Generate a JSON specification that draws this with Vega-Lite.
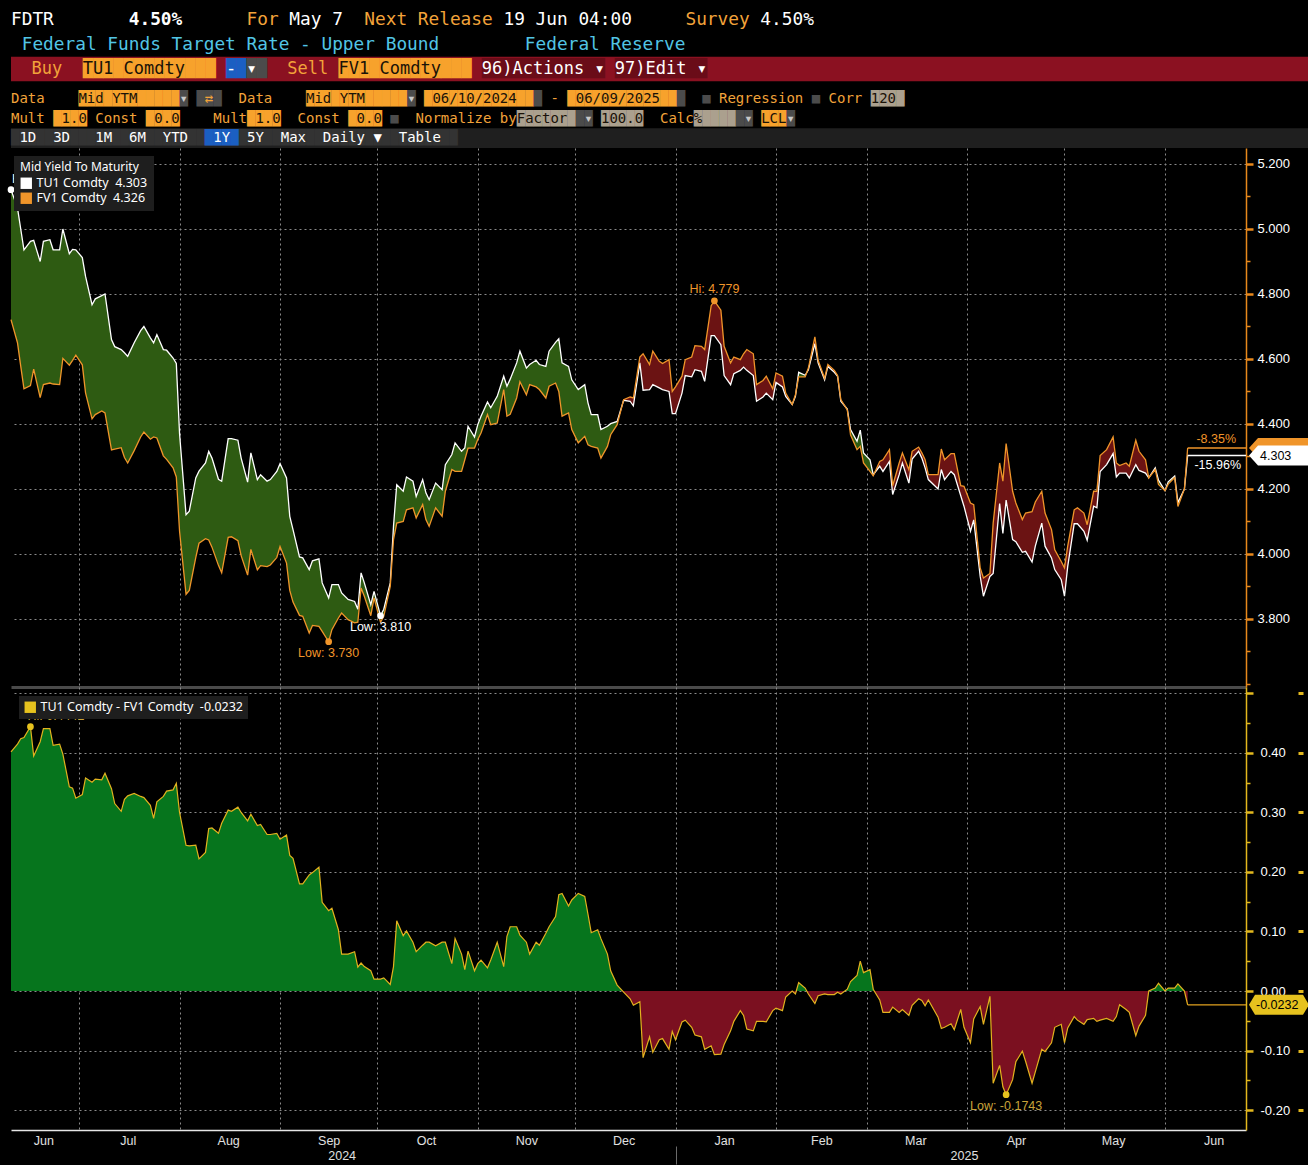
{
"$schema": "https://vega.github.io/schema/vega-lite/v6.json",
"background": "#000000",
"padding": {"left": 7, "top": 0, "right": 0, "bottom": 0},
"spacing": 0,
"bounds": "flush",
"resolve": {"scale": {"color": "independent"}, "legend": {"color": "independent"}},
"config": {"view": {"stroke": null}},
"datasets": {
"hdrA": [
{"part":"Trade","role":"bgred"},
{"part":"Trade","role":"box","text":"\u200b\u00a0\u00a0\u00a0\u00a0\u00a0\u00a0\u00a0█████████████\u00a0\u00a0\u00a0\u00a0\u00a0\u00a0\u00a0\u00a0\u00a0\u00a0\u00a0\u00a0█████████████"},
{"part":"Trade","role":"blue","text":"\u200b\u00a0\u00a0\u00a0\u00a0\u00a0\u00a0\u00a0\u00a0\u00a0\u00a0\u00a0\u00a0\u00a0\u00a0\u00a0\u00a0\u00a0\u00a0\u00a0\u00a0\u00a0██"},
{"part":"Trade","role":"gray","text":"\u200b\u00a0\u00a0\u00a0\u00a0\u00a0\u00a0\u00a0\u00a0\u00a0\u00a0\u00a0\u00a0\u00a0\u00a0\u00a0\u00a0\u00a0\u00a0\u00a0\u00a0\u00a0\u00a0\u00a0██"},
{"part":"Trade","role":"dred","text":"\u200b\u00a0\u00a0\u00a0\u00a0\u00a0\u00a0\u00a0\u00a0\u00a0\u00a0\u00a0\u00a0\u00a0\u00a0\u00a0\u00a0\u00a0\u00a0\u00a0\u00a0\u00a0\u00a0\u00a0\u00a0\u00a0\u00a0\u00a0\u00a0\u00a0\u00a0\u00a0\u00a0\u00a0\u00a0\u00a0\u00a0\u00a0\u00a0\u00a0\u00a0\u00a0\u00a0\u00a0\u00a0\u00a0\u00a0████████████\u00a0█████████"},
{"part":"Trade","role":"lbl","text":"\u200b\u00a0\u00a0Buy\u00a0\u00a0\u00a0\u00a0\u00a0\u00a0\u00a0\u00a0\u00a0\u00a0\u00a0\u00a0\u00a0\u00a0\u00a0\u00a0\u00a0\u00a0\u00a0\u00a0\u00a0\u00a0Sell"},
{"part":"Trade","role":"boxtxt","text":"\u200b\u00a0\u00a0\u00a0\u00a0\u00a0\u00a0\u00a0TU1 Comdty\u00a0\u00a0\u00a0\u00a0\u00a0\u00a0\u00a0\u00a0\u00a0\u00a0\u00a0\u00a0\u00a0\u00a0\u00a0FV1 Comdty"},
{"part":"Trade","role":"wtxt","text":"\u200b\u00a0\u00a0\u00a0\u00a0\u00a0\u00a0\u00a0\u00a0\u00a0\u00a0\u00a0\u00a0\u00a0\u00a0\u00a0\u00a0\u00a0\u00a0\u00a0\u00a0\u00a0-\u00a0▾\u00a0\u00a0\u00a0\u00a0\u00a0\u00a0\u00a0\u00a0\u00a0\u00a0\u00a0\u00a0\u00a0\u00a0\u00a0\u00a0\u00a0\u00a0\u00a0\u00a0\u00a0\u00a096)Actions ▾\u00a097)Edit ▾"},
{"part":"Ticker","role":"val","text":"\u200bFDTR\u00a0\u00a0\u00a0\u00a0\u00a0\u00a0\u00a0\u00a0\u00a0\u00a0\u00a0\u00a0\u00a0\u00a0\u00a0\u00a0\u00a0\u00a0\u00a0\u00a0\u00a0\u00a0May 7\u00a0\u00a0\u00a0\u00a0\u00a0\u00a0\u00a0\u00a0\u00a0\u00a0\u00a0\u00a0\u00a0\u00a0\u00a019 Jun 04:00\u00a0\u00a0\u00a0\u00a0\u00a0\u00a0\u00a0\u00a0\u00a0\u00a0\u00a0\u00a04.50%"},
{"part":"Ticker","role":"lbl","text":"\u200b\u00a0\u00a0\u00a0\u00a0\u00a0\u00a0\u00a0\u00a0\u00a0\u00a0\u00a0\u00a0\u00a0\u00a0\u00a0\u00a0\u00a0\u00a0\u00a0\u00a0\u00a0\u00a0For\u00a0\u00a0\u00a0\u00a0\u00a0\u00a0\u00a0\u00a0Next Release\u00a0\u00a0\u00a0\u00a0\u00a0\u00a0\u00a0\u00a0\u00a0\u00a0\u00a0\u00a0\u00a0\u00a0\u00a0\u00a0\u00a0\u00a0Survey"},
{"part":"Ticker","role":"valb","text":"\u200b\u00a0\u00a0\u00a0\u00a0\u00a0\u00a0\u00a0\u00a0\u00a0\u00a0\u00a04.50%"},
{"part":"Name","role":"cyan","text":"\u200b\u00a0Federal Funds Target Rate - Upper Bound\u00a0\u00a0\u00a0\u00a0\u00a0\u00a0\u00a0\u00a0Federal Reserve"}
],
"hdrB": [
{"part":"Period","role":"bggray"},
{"part":"Period","role":"btn","text":"\u200b█████████████████████████████████████████████████████"},
{"part":"Period","role":"blue","text":"\u200b\u00a0\u00a0\u00a0\u00a0\u00a0\u00a0\u00a0\u00a0\u00a0\u00a0\u00a0\u00a0\u00a0\u00a0\u00a0\u00a0\u00a0\u00a0\u00a0\u00a0\u00a0\u00a0\u00a0████"},
{"part":"Period","role":"wtxt","text":"\u200b\u00a01D\u00a0\u00a03D\u00a0\u00a0\u00a01M\u00a0\u00a06M\u00a0\u00a0YTD\u00a0\u00a0\u00a01Y\u00a0\u00a05Y\u00a0\u00a0Max\u00a0\u00a0Daily ▼\u00a0\u00a0Table"},
{"part":"Data","role":"box","text":"\u200b\u00a0\u00a0\u00a0\u00a0\u00a0\u00a0\u00a0\u00a0████████████\u00a0\u00a0\u00a0\u00a0\u00a0\u00a0\u00a0\u00a0\u00a0\u00a0\u00a0\u00a0\u00a0\u00a0\u00a0████████████\u00a0\u00a0█████████████\u00a0\u00a0\u00a0\u00a0█████████████"},
{"part":"Data","role":"gray","text":"\u200b\u00a0\u00a0\u00a0\u00a0\u00a0\u00a0\u00a0\u00a0\u00a0\u00a0\u00a0\u00a0\u00a0\u00a0\u00a0\u00a0\u00a0\u00a0\u00a0\u00a0█\u00a0███\u00a0\u00a0\u00a0\u00a0\u00a0\u00a0\u00a0\u00a0\u00a0\u00a0\u00a0\u00a0\u00a0\u00a0\u00a0\u00a0\u00a0\u00a0\u00a0\u00a0\u00a0\u00a0█\u00a0\u00a0\u00a0\u00a0\u00a0\u00a0\u00a0\u00a0\u00a0\u00a0\u00a0\u00a0\u00a0\u00a0█\u00a0\u00a0\u00a0\u00a0\u00a0\u00a0\u00a0\u00a0\u00a0\u00a0\u00a0\u00a0\u00a0\u00a0\u00a0\u00a0█\u00a0\u00a0■\u00a0\u00a0\u00a0\u00a0\u00a0\u00a0\u00a0\u00a0\u00a0\u00a0\u00a0\u00a0■"},
{"part":"Data","role":"beige","text":"\u200b\u00a0\u00a0\u00a0\u00a0\u00a0\u00a0\u00a0\u00a0\u00a0\u00a0\u00a0\u00a0\u00a0\u00a0\u00a0\u00a0\u00a0\u00a0\u00a0\u00a0\u00a0\u00a0\u00a0\u00a0\u00a0\u00a0\u00a0\u00a0\u00a0\u00a0\u00a0\u00a0\u00a0\u00a0\u00a0\u00a0\u00a0\u00a0\u00a0\u00a0\u00a0\u00a0\u00a0\u00a0\u00a0\u00a0\u00a0\u00a0\u00a0\u00a0\u00a0\u00a0\u00a0\u00a0\u00a0\u00a0\u00a0\u00a0\u00a0\u00a0\u00a0\u00a0\u00a0\u00a0\u00a0\u00a0\u00a0\u00a0\u00a0\u00a0\u00a0\u00a0\u00a0\u00a0\u00a0\u00a0\u00a0\u00a0\u00a0\u00a0\u00a0\u00a0\u00a0\u00a0\u00a0\u00a0\u00a0\u00a0\u00a0\u00a0\u00a0\u00a0\u00a0\u00a0\u00a0\u00a0\u00a0\u00a0\u00a0\u00a0\u00a0\u00a0████"},
{"part":"Data","role":"lbl","text":"\u200bData\u00a0\u00a0\u00a0\u00a0\u00a0\u00a0\u00a0\u00a0\u00a0\u00a0\u00a0\u00a0\u00a0\u00a0\u00a0\u00a0\u00a0\u00a0\u00a0⇄\u00a0\u00a0\u00a0Data\u00a0\u00a0\u00a0\u00a0\u00a0\u00a0\u00a0\u00a0\u00a0\u00a0\u00a0\u00a0\u00a0\u00a0\u00a0\u00a0\u00a0\u00a0\u00a0\u00a0\u00a0\u00a0\u00a0\u00a0\u00a0\u00a0\u00a0\u00a0\u00a0\u00a0\u00a0\u00a0\u00a0-\u00a0\u00a0\u00a0\u00a0\u00a0\u00a0\u00a0\u00a0\u00a0\u00a0\u00a0\u00a0\u00a0\u00a0\u00a0\u00a0\u00a0\u00a0\u00a0Regression\u00a0\u00a0\u00a0Corr"},
{"part":"Data","role":"boxtxt","text":"\u200b\u00a0\u00a0\u00a0\u00a0\u00a0\u00a0\u00a0\u00a0Mid YTM\u00a0\u00a0\u00a0\u00a0\u00a0\u00a0\u00a0\u00a0\u00a0\u00a0\u00a0\u00a0\u00a0\u00a0\u00a0\u00a0\u00a0\u00a0\u00a0\u00a0Mid YTM\u00a0\u00a0\u00a0\u00a0\u00a0\u00a0\u00a0\u00a006/10/2024\u00a0\u00a0\u00a0\u00a0\u00a0\u00a0\u00a006/09/2025\u00a0\u00a0\u00a0\u00a0\u00a0\u00a0\u00a0\u00a0\u00a0\u00a0\u00a0\u00a0\u00a0\u00a0\u00a0\u00a0\u00a0\u00a0\u00a0\u00a0\u00a0\u00a0\u00a0\u00a0\u00a0120"},
{"part":"Data","role":"dtxt","text":"\u200b\u00a0\u00a0\u00a0\u00a0\u00a0\u00a0\u00a0\u00a0\u00a0\u00a0\u00a0\u00a0\u00a0\u00a0\u00a0\u00a0\u00a0\u00a0\u00a0\u00a0▾\u00a0\u00a0\u00a0\u00a0\u00a0\u00a0\u00a0\u00a0\u00a0\u00a0\u00a0\u00a0\u00a0\u00a0\u00a0\u00a0\u00a0\u00a0\u00a0\u00a0\u00a0\u00a0\u00a0\u00a0\u00a0\u00a0▾"},
{"part":"Scale","role":"box","text":"\u200b\u00a0\u00a0\u00a0\u00a0\u00a0████\u00a0\u00a0\u00a0\u00a0\u00a0\u00a0\u00a0████\u00a0\u00a0\u00a0\u00a0\u00a0\u00a0\u00a0\u00a0████\u00a0\u00a0\u00a0\u00a0\u00a0\u00a0\u00a0\u00a0████\u00a0\u00a0\u00a0\u00a0\u00a0\u00a0\u00a0\u00a0\u00a0\u00a0\u00a0\u00a0\u00a0\u00a0\u00a0\u00a0\u00a0\u00a0\u00a0\u00a0\u00a0\u00a0\u00a0\u00a0\u00a0\u00a0\u00a0\u00a0\u00a0\u00a0\u00a0\u00a0\u00a0\u00a0\u00a0\u00a0\u00a0\u00a0\u00a0\u00a0\u00a0\u00a0\u00a0\u00a0\u00a0███"},
{"part":"Scale","role":"beige","text":"\u200b\u00a0\u00a0\u00a0\u00a0\u00a0\u00a0\u00a0\u00a0\u00a0\u00a0\u00a0\u00a0\u00a0\u00a0\u00a0\u00a0\u00a0\u00a0\u00a0\u00a0\u00a0\u00a0\u00a0\u00a0\u00a0\u00a0\u00a0\u00a0\u00a0\u00a0\u00a0\u00a0\u00a0\u00a0\u00a0\u00a0\u00a0\u00a0\u00a0\u00a0\u00a0\u00a0\u00a0\u00a0\u00a0\u00a0\u00a0\u00a0\u00a0\u00a0\u00a0\u00a0\u00a0\u00a0\u00a0\u00a0\u00a0\u00a0\u00a0\u00a0███████\u00a0\u00a0\u00a0█████\u00a0\u00a0\u00a0\u00a0\u00a0\u00a0█████"},
{"part":"Scale","role":"gray","text":"\u200b\u00a0\u00a0\u00a0\u00a0\u00a0\u00a0\u00a0\u00a0\u00a0\u00a0\u00a0\u00a0\u00a0\u00a0\u00a0\u00a0\u00a0\u00a0\u00a0\u00a0\u00a0\u00a0\u00a0\u00a0\u00a0\u00a0\u00a0\u00a0\u00a0\u00a0\u00a0\u00a0\u00a0\u00a0\u00a0\u00a0\u00a0\u00a0\u00a0\u00a0\u00a0\u00a0\u00a0\u00a0\u00a0■\u00a0\u00a0\u00a0\u00a0\u00a0\u00a0\u00a0\u00a0\u00a0\u00a0\u00a0\u00a0\u00a0\u00a0\u00a0\u00a0\u00a0\u00a0\u00a0\u00a0\u00a0██\u00a0\u00a0\u00a0\u00a0\u00a0\u00a0\u00a0\u00a0\u00a0\u00a0\u00a0\u00a0\u00a0\u00a0\u00a0\u00a0\u00a0██\u00a0\u00a0\u00a0\u00a0█"},
{"part":"Scale","role":"lbl","text":"\u200bMult\u00a0\u00a0\u00a0\u00a0\u00a0\u00a0Const\u00a0\u00a0\u00a0\u00a0\u00a0\u00a0\u00a0\u00a0\u00a0Mult\u00a0\u00a0\u00a0\u00a0\u00a0\u00a0Const\u00a0\u00a0\u00a0\u00a0\u00a0\u00a0\u00a0\u00a0\u00a0Normalize by\u00a0\u00a0\u00a0\u00a0\u00a0\u00a0\u00a0\u00a0\u00a0\u00a0\u00a0\u00a0\u00a0\u00a0\u00a0\u00a0\u00a0Calc"},
{"part":"Scale","role":"boxtxt","text":"\u200b\u00a0\u00a0\u00a0\u00a0\u00a0\u00a01.0\u00a0\u00a0\u00a0\u00a0\u00a0\u00a0\u00a0\u00a00.0\u00a0\u00a0\u00a0\u00a0\u00a0\u00a0\u00a0\u00a0\u00a01.0\u00a0\u00a0\u00a0\u00a0\u00a0\u00a0\u00a0\u00a0\u00a00.0\u00a0\u00a0\u00a0\u00a0\u00a0\u00a0\u00a0\u00a0\u00a0\u00a0\u00a0\u00a0\u00a0\u00a0\u00a0\u00a0Factor\u00a0\u00a0\u00a0\u00a0100.0\u00a0\u00a0\u00a0\u00a0\u00a0\u00a0%\u00a0\u00a0\u00a0\u00a0\u00a0\u00a0\u00a0LCL"},
{"part":"Scale","role":"dtxt","text":"\u200b\u00a0\u00a0\u00a0\u00a0\u00a0\u00a0\u00a0\u00a0\u00a0\u00a0\u00a0\u00a0\u00a0\u00a0\u00a0\u00a0\u00a0\u00a0\u00a0\u00a0\u00a0\u00a0\u00a0\u00a0\u00a0\u00a0\u00a0\u00a0\u00a0\u00a0\u00a0\u00a0\u00a0\u00a0\u00a0\u00a0\u00a0\u00a0\u00a0\u00a0\u00a0\u00a0\u00a0\u00a0\u00a0\u00a0\u00a0\u00a0\u00a0\u00a0\u00a0\u00a0\u00a0\u00a0\u00a0\u00a0\u00a0\u00a0\u00a0\u00a0\u00a0\u00a0\u00a0\u00a0\u00a0\u00a0\u00a0\u00a0▾\u00a0\u00a0\u00a0\u00a0\u00a0\u00a0\u00a0\u00a0\u00a0\u00a0\u00a0\u00a0\u00a0\u00a0\u00a0\u00a0\u00a0\u00a0▾\u00a0\u00a0\u00a0\u00a0▾"}
],
"yields": [
{"d":"2024-06-10","tu1":5.121,"fv1":4.721,"spr":0.402},
{"d":"2024-06-12","tu1":5.065,"fv1":4.650,"spr":0.415},
{"d":"2024-06-13","tu1":5.000,"fv1":4.578,"spr":0.424},
{"d":"2024-06-14","tu1":4.936,"fv1":4.508,"spr":0.426},
{"d":"2024-06-16","tu1":4.962,"fv1":4.518,"spr":0.4442},
{"d":"2024-06-17","tu1":4.965,"fv1":4.569,"spr":0.395},
{"d":"2024-06-19","tu1":4.900,"fv1":4.481,"spr":0.419},
{"d":"2024-06-20","tu1":4.962,"fv1":4.521,"spr":0.441},
{"d":"2024-06-22","tu1":4.967,"fv1":4.526,"spr":0.441},
{"d":"2024-06-23","tu1":4.936,"fv1":4.523,"spr":0.413},
{"d":"2024-06-25","tu1":4.936,"fv1":4.521,"spr":0.415},
{"d":"2024-06-26","tu1":5.000,"fv1":4.602,"spr":0.398},
{"d":"2024-06-28","tu1":4.924,"fv1":4.581,"spr":0.343},
{"d":"2024-06-29","tu1":4.937,"fv1":4.596,"spr":0.341},
{"d":"2024-06-30","tu1":4.936,"fv1":4.612,"spr":0.324},
{"d":"2024-07-02","tu1":4.912,"fv1":4.582,"spr":0.330},
{"d":"2024-07-03","tu1":4.854,"fv1":4.496,"spr":0.358},
{"d":"2024-07-05","tu1":4.767,"fv1":4.416,"spr":0.351},
{"d":"2024-07-06","tu1":4.785,"fv1":4.429,"spr":0.356},
{"d":"2024-07-08","tu1":4.795,"fv1":4.440,"spr":0.355},
{"d":"2024-07-09","tu1":4.800,"fv1":4.434,"spr":0.366},
{"d":"2024-07-11","tu1":4.660,"fv1":4.320,"spr":0.340},
{"d":"2024-07-12","tu1":4.638,"fv1":4.323,"spr":0.315},
{"d":"2024-07-14","tu1":4.629,"fv1":4.327,"spr":0.302},
{"d":"2024-07-15","tu1":4.619,"fv1":4.297,"spr":0.322},
{"d":"2024-07-16","tu1":4.608,"fv1":4.280,"spr":0.328},
{"d":"2024-07-18","tu1":4.650,"fv1":4.318,"spr":0.332},
{"d":"2024-07-20","tu1":4.687,"fv1":4.360,"spr":0.327},
{"d":"2024-07-21","tu1":4.700,"fv1":4.375,"spr":0.325},
{"d":"2024-07-23","tu1":4.665,"fv1":4.353,"spr":0.312},
{"d":"2024-07-24","tu1":4.650,"fv1":4.360,"spr":0.290},
{"d":"2024-07-25","tu1":4.675,"fv1":4.357,"spr":0.318},
{"d":"2024-07-27","tu1":4.629,"fv1":4.302,"spr":0.327},
{"d":"2024-07-28","tu1":4.627,"fv1":4.291,"spr":0.336},
{"d":"2024-07-30","tu1":4.603,"fv1":4.265,"spr":0.338},
{"d":"2024-07-31","tu1":4.586,"fv1":4.237,"spr":0.349},
{"d":"2024-08-01","tu1":4.370,"fv1":4.070,"spr":0.300},
{"d":"2024-08-03","tu1":4.121,"fv1":3.876,"spr":0.245},
{"d":"2024-08-04","tu1":4.132,"fv1":3.888,"spr":0.244},
{"d":"2024-08-06","tu1":4.234,"fv1":3.989,"spr":0.245},
{"d":"2024-08-07","tu1":4.255,"fv1":4.033,"spr":0.222},
{"d":"2024-08-09","tu1":4.280,"fv1":4.047,"spr":0.233},
{"d":"2024-08-10","tu1":4.316,"fv1":4.043,"spr":0.273},
{"d":"2024-08-11","tu1":4.295,"fv1":4.021,"spr":0.274},
{"d":"2024-08-13","tu1":4.230,"fv1":3.965,"spr":0.265},
{"d":"2024-08-14","tu1":4.224,"fv1":3.942,"spr":0.282},
{"d":"2024-08-16","tu1":4.355,"fv1":4.051,"spr":0.304},
{"d":"2024-08-17","tu1":4.355,"fv1":4.053,"spr":0.302},
{"d":"2024-08-19","tu1":4.350,"fv1":4.041,"spr":0.309},
{"d":"2024-08-20","tu1":4.295,"fv1":3.995,"spr":0.300},
{"d":"2024-08-22","tu1":4.221,"fv1":3.935,"spr":0.286},
{"d":"2024-08-23","tu1":4.311,"fv1":4.014,"spr":0.297},
{"d":"2024-08-25","tu1":4.229,"fv1":3.951,"spr":0.278},
{"d":"2024-08-26","tu1":4.244,"fv1":3.964,"spr":0.280},
{"d":"2024-08-28","tu1":4.224,"fv1":3.961,"spr":0.263},
{"d":"2024-08-29","tu1":4.229,"fv1":3.966,"spr":0.263},
{"d":"2024-08-31","tu1":4.254,"fv1":3.989,"spr":0.265},
{"d":"2024-09-01","tu1":4.278,"fv1":4.023,"spr":0.255},
{"d":"2024-09-03","tu1":4.234,"fv1":3.972,"spr":0.262},
{"d":"2024-09-04","tu1":4.116,"fv1":3.888,"spr":0.228},
{"d":"2024-09-05","tu1":4.075,"fv1":3.852,"spr":0.223},
{"d":"2024-09-07","tu1":3.991,"fv1":3.811,"spr":0.180},
{"d":"2024-09-08","tu1":3.988,"fv1":3.808,"spr":0.180},
{"d":"2024-09-10","tu1":3.952,"fv1":3.757,"spr":0.195},
{"d":"2024-09-11","tu1":3.979,"fv1":3.780,"spr":0.199},
{"d":"2024-09-13","tu1":3.985,"fv1":3.777,"spr":0.208},
{"d":"2024-09-14","tu1":3.911,"fv1":3.762,"spr":0.149},
{"d":"2024-09-16","tu1":3.865,"fv1":3.730,"spr":0.135},
{"d":"2024-09-17","tu1":3.906,"fv1":3.767,"spr":0.139},
{"d":"2024-09-19","tu1":3.906,"fv1":3.803,"spr":0.103},
{"d":"2024-09-20","tu1":3.880,"fv1":3.818,"spr":0.062},
{"d":"2024-09-22","tu1":3.860,"fv1":3.798,"spr":0.062},
{"d":"2024-09-24","tu1":3.854,"fv1":3.788,"spr":0.066},
{"d":"2024-09-25","tu1":3.830,"fv1":3.790,"spr":0.040},
{"d":"2024-09-26","tu1":3.942,"fv1":3.895,"spr":0.047},
{"d":"2024-09-27","tu1":3.911,"fv1":3.870,"spr":0.041},
{"d":"2024-09-29","tu1":3.844,"fv1":3.810,"spr":0.034},
{"d":"2024-09-30","tu1":3.885,"fv1":3.865,"spr":0.020},
{"d":"2024-10-02","tu1":3.810,"fv1":3.790,"spr":0.020},
{"d":"2024-10-03","tu1":3.830,"fv1":3.808,"spr":0.022},
{"d":"2024-10-05","tu1":3.911,"fv1":3.900,"spr":0.011},
{"d":"2024-10-06","tu1":4.085,"fv1":4.044,"spr":0.041},
{"d":"2024-10-07","tu1":4.213,"fv1":4.095,"spr":0.118},
{"d":"2024-10-09","tu1":4.193,"fv1":4.100,"spr":0.093},
{"d":"2024-10-10","tu1":4.237,"fv1":4.136,"spr":0.101},
{"d":"2024-10-12","tu1":4.224,"fv1":4.142,"spr":0.082},
{"d":"2024-10-13","tu1":4.177,"fv1":4.111,"spr":0.066},
{"d":"2024-10-15","tu1":4.229,"fv1":4.152,"spr":0.077},
{"d":"2024-10-16","tu1":4.188,"fv1":4.106,"spr":0.082},
{"d":"2024-10-17","tu1":4.167,"fv1":4.085,"spr":0.082},
{"d":"2024-10-19","tu1":4.218,"fv1":4.142,"spr":0.076},
{"d":"2024-10-21","tu1":4.198,"fv1":4.116,"spr":0.082},
{"d":"2024-10-22","tu1":4.275,"fv1":4.193,"spr":0.082},
{"d":"2024-10-24","tu1":4.306,"fv1":4.260,"spr":0.046},
{"d":"2024-10-25","tu1":4.342,"fv1":4.254,"spr":0.088},
{"d":"2024-10-27","tu1":4.316,"fv1":4.254,"spr":0.062},
{"d":"2024-10-28","tu1":4.326,"fv1":4.290,"spr":0.036},
{"d":"2024-10-29","tu1":4.393,"fv1":4.326,"spr":0.067},
{"d":"2024-10-31","tu1":4.360,"fv1":4.326,"spr":0.034},
{"d":"2024-11-01","tu1":4.398,"fv1":4.352,"spr":0.046},
{"d":"2024-11-02","tu1":4.424,"fv1":4.372,"spr":0.052},
{"d":"2024-11-04","tu1":4.468,"fv1":4.429,"spr":0.039},
{"d":"2024-11-05","tu1":4.450,"fv1":4.398,"spr":0.052},
{"d":"2024-11-07","tu1":4.485,"fv1":4.403,"spr":0.082},
{"d":"2024-11-09","tu1":4.547,"fv1":4.506,"spr":0.041},
{"d":"2024-11-10","tu1":4.516,"fv1":4.424,"spr":0.092},
{"d":"2024-11-11","tu1":4.538,"fv1":4.430,"spr":0.108},
{"d":"2024-11-13","tu1":4.588,"fv1":4.480,"spr":0.108},
{"d":"2024-11-14","tu1":4.624,"fv1":4.530,"spr":0.094},
{"d":"2024-11-16","tu1":4.572,"fv1":4.490,"spr":0.082},
{"d":"2024-11-17","tu1":4.583,"fv1":4.521,"spr":0.062},
{"d":"2024-11-19","tu1":4.596,"fv1":4.514,"spr":0.082},
{"d":"2024-11-20","tu1":4.583,"fv1":4.506,"spr":0.077},
{"d":"2024-11-22","tu1":4.577,"fv1":4.480,"spr":0.097},
{"d":"2024-11-23","tu1":4.624,"fv1":4.516,"spr":0.108},
{"d":"2024-11-25","tu1":4.651,"fv1":4.526,"spr":0.125},
{"d":"2024-11-26","tu1":4.662,"fv1":4.500,"spr":0.162},
{"d":"2024-11-27","tu1":4.588,"fv1":4.424,"spr":0.164},
{"d":"2024-11-29","tu1":4.577,"fv1":4.434,"spr":0.143},
{"d":"2024-11-30","tu1":4.536,"fv1":4.383,"spr":0.153},
{"d":"2024-12-02","tu1":4.506,"fv1":4.342,"spr":0.164},
{"d":"2024-12-04","tu1":4.521,"fv1":4.362,"spr":0.159},
{"d":"2024-12-05","tu1":4.465,"fv1":4.336,"spr":0.129},
{"d":"2024-12-06","tu1":4.429,"fv1":4.331,"spr":0.098},
{"d":"2024-12-08","tu1":4.429,"fv1":4.326,"spr":0.103},
{"d":"2024-12-09","tu1":4.383,"fv1":4.295,"spr":0.088},
{"d":"2024-12-11","tu1":4.393,"fv1":4.331,"spr":0.062},
{"d":"2024-12-12","tu1":4.401,"fv1":4.367,"spr":0.034},
{"d":"2024-12-14","tu1":4.408,"fv1":4.398,"spr":0.010},
{"d":"2024-12-16","tu1":4.473,"fv1":4.475,"spr":-0.002},
{"d":"2024-12-18","tu1":4.470,"fv1":4.483,"spr":-0.013},
{"d":"2024-12-19","tu1":4.456,"fv1":4.480,"spr":-0.024},
{"d":"2024-12-21","tu1":4.588,"fv1":4.606,"spr":-0.018},
{"d":"2024-12-22","tu1":4.504,"fv1":4.616,"spr":-0.112},
{"d":"2024-12-24","tu1":4.506,"fv1":4.583,"spr":-0.077},
{"d":"2024-12-25","tu1":4.521,"fv1":4.624,"spr":-0.103},
{"d":"2024-12-27","tu1":4.511,"fv1":4.593,"spr":-0.082},
{"d":"2024-12-28","tu1":4.506,"fv1":4.586,"spr":-0.080},
{"d":"2024-12-30","tu1":4.500,"fv1":4.598,"spr":-0.098},
{"d":"2024-12-31","tu1":4.432,"fv1":4.500,"spr":-0.068},
{"d":"2025-01-01","tu1":4.432,"fv1":4.514,"spr":-0.082},
{"d":"2025-01-03","tu1":4.495,"fv1":4.547,"spr":-0.052},
{"d":"2025-01-04","tu1":4.549,"fv1":4.598,"spr":-0.049},
{"d":"2025-01-06","tu1":4.545,"fv1":4.606,"spr":-0.061},
{"d":"2025-01-07","tu1":4.567,"fv1":4.641,"spr":-0.074},
{"d":"2025-01-09","tu1":4.562,"fv1":4.639,"spr":-0.077},
{"d":"2025-01-10","tu1":4.531,"fv1":4.629,"spr":-0.098},
{"d":"2025-01-12","tu1":4.672,"fv1":4.764,"spr":-0.092},
{"d":"2025-01-13","tu1":4.672,"fv1":4.779,"spr":-0.107},
{"d":"2025-01-15","tu1":4.644,"fv1":4.750,"spr":-0.106},
{"d":"2025-01-16","tu1":4.549,"fv1":4.639,"spr":-0.090},
{"d":"2025-01-18","tu1":4.521,"fv1":4.588,"spr":-0.067},
{"d":"2025-01-19","tu1":4.555,"fv1":4.606,"spr":-0.051},
{"d":"2025-01-21","tu1":4.565,"fv1":4.598,"spr":-0.033},
{"d":"2025-01-22","tu1":4.575,"fv1":4.616,"spr":-0.041},
{"d":"2025-01-23","tu1":4.565,"fv1":4.629,"spr":-0.064},
{"d":"2025-01-25","tu1":4.549,"fv1":4.616,"spr":-0.067},
{"d":"2025-01-26","tu1":4.470,"fv1":4.521,"spr":-0.051},
{"d":"2025-01-28","tu1":4.483,"fv1":4.534,"spr":-0.051},
{"d":"2025-01-29","tu1":4.495,"fv1":4.547,"spr":-0.052},
{"d":"2025-01-31","tu1":4.475,"fv1":4.508,"spr":-0.033},
{"d":"2025-02-01","tu1":4.528,"fv1":4.557,"spr":-0.029},
{"d":"2025-02-03","tu1":4.514,"fv1":4.547,"spr":-0.033},
{"d":"2025-02-04","tu1":4.485,"fv1":4.495,"spr":-0.010},
{"d":"2025-02-06","tu1":4.460,"fv1":4.460,"spr":0.000},
{"d":"2025-02-07","tu1":4.485,"fv1":4.490,"spr":-0.005},
{"d":"2025-02-08","tu1":4.559,"fv1":4.545,"spr":0.014},
{"d":"2025-02-10","tu1":4.550,"fv1":4.545,"spr":0.005},
{"d":"2025-02-11","tu1":4.567,"fv1":4.572,"spr":-0.005},
{"d":"2025-02-13","tu1":4.647,"fv1":4.668,"spr":-0.021},
{"d":"2025-02-14","tu1":4.588,"fv1":4.596,"spr":-0.008},
{"d":"2025-02-16","tu1":4.536,"fv1":4.541,"spr":-0.005},
{"d":"2025-02-17","tu1":4.577,"fv1":4.583,"spr":-0.006},
{"d":"2025-02-19","tu1":4.559,"fv1":4.565,"spr":-0.006},
{"d":"2025-02-20","tu1":4.547,"fv1":4.549,"spr":-0.002},
{"d":"2025-02-21","tu1":4.470,"fv1":4.475,"spr":-0.005},
{"d":"2025-02-23","tu1":4.446,"fv1":4.443,"spr":0.003},
{"d":"2025-02-24","tu1":4.383,"fv1":4.367,"spr":0.016},
{"d":"2025-02-26","tu1":4.347,"fv1":4.321,"spr":0.026},
{"d":"2025-02-27","tu1":4.381,"fv1":4.331,"spr":0.050},
{"d":"2025-02-28","tu1":4.311,"fv1":4.280,"spr":0.031},
{"d":"2025-03-02","tu1":4.290,"fv1":4.254,"spr":0.036},
{"d":"2025-03-03","tu1":4.244,"fv1":4.241,"spr":0.003},
{"d":"2025-03-05","tu1":4.270,"fv1":4.285,"spr":-0.015},
{"d":"2025-03-06","tu1":4.254,"fv1":4.290,"spr":-0.036},
{"d":"2025-03-08","tu1":4.285,"fv1":4.321,"spr":-0.036},
{"d":"2025-03-09","tu1":4.183,"fv1":4.210,"spr":-0.027},
{"d":"2025-03-11","tu1":4.244,"fv1":4.280,"spr":-0.036},
{"d":"2025-03-12","tu1":4.280,"fv1":4.311,"spr":-0.031},
{"d":"2025-03-14","tu1":4.218,"fv1":4.259,"spr":-0.041},
{"d":"2025-03-15","tu1":4.292,"fv1":4.316,"spr":-0.024},
{"d":"2025-03-17","tu1":4.316,"fv1":4.329,"spr":-0.013},
{"d":"2025-03-18","tu1":4.295,"fv1":4.311,"spr":-0.016},
{"d":"2025-03-19","tu1":4.265,"fv1":4.290,"spr":-0.025},
{"d":"2025-03-20","tu1":4.229,"fv1":4.244,"spr":-0.015},
{"d":"2025-03-23","tu1":4.200,"fv1":4.244,"spr":-0.044},
{"d":"2025-03-24","tu1":4.260,"fv1":4.323,"spr":-0.063},
{"d":"2025-03-25","tu1":4.229,"fv1":4.290,"spr":-0.061},
{"d":"2025-03-27","tu1":4.254,"fv1":4.309,"spr":-0.055},
{"d":"2025-03-28","tu1":4.244,"fv1":4.309,"spr":-0.065},
{"d":"2025-03-30","tu1":4.179,"fv1":4.210,"spr":-0.031},
{"d":"2025-03-31","tu1":4.147,"fv1":4.208,"spr":-0.061},
{"d":"2025-04-02","tu1":4.070,"fv1":4.157,"spr":-0.087},
{"d":"2025-04-03","tu1":4.105,"fv1":4.152,"spr":-0.047},
{"d":"2025-04-05","tu1":3.931,"fv1":3.957,"spr":-0.026},
{"d":"2025-04-06","tu1":3.870,"fv1":3.926,"spr":-0.056},
{"d":"2025-04-08","tu1":3.931,"fv1":3.940,"spr":-0.009},
{"d":"2025-04-09","tu1":3.940,"fv1":4.095,"spr":-0.155},
{"d":"2025-04-11","tu1":4.155,"fv1":4.280,"spr":-0.125},
{"d":"2025-04-12","tu1":4.063,"fv1":4.224,"spr":-0.161},
{"d":"2025-04-13","tu1":4.166,"fv1":4.340,"spr":-0.1743},
{"d":"2025-04-15","tu1":4.044,"fv1":4.193,"spr":-0.149},
{"d":"2025-04-16","tu1":4.038,"fv1":4.157,"spr":-0.119},
{"d":"2025-04-18","tu1":4.005,"fv1":4.106,"spr":-0.101},
{"d":"2025-04-19","tu1":4.008,"fv1":4.126,"spr":-0.118},
{"d":"2025-04-21","tu1":3.975,"fv1":4.130,"spr":-0.155},
{"d":"2025-04-22","tu1":4.024,"fv1":4.160,"spr":-0.136},
{"d":"2025-04-24","tu1":4.095,"fv1":4.193,"spr":-0.098},
{"d":"2025-04-25","tu1":4.024,"fv1":4.126,"spr":-0.102},
{"d":"2025-04-27","tu1":3.988,"fv1":4.075,"spr":-0.087},
{"d":"2025-04-28","tu1":3.952,"fv1":4.013,"spr":-0.061},
{"d":"2025-04-30","tu1":3.921,"fv1":3.977,"spr":-0.056},
{"d":"2025-05-01","tu1":3.870,"fv1":3.957,"spr":-0.087},
{"d":"2025-05-02","tu1":3.962,"fv1":4.024,"spr":-0.062},
{"d":"2025-05-04","tu1":4.093,"fv1":4.136,"spr":-0.043},
{"d":"2025-05-05","tu1":4.093,"fv1":4.142,"spr":-0.049},
{"d":"2025-05-07","tu1":4.070,"fv1":4.126,"spr":-0.056},
{"d":"2025-05-08","tu1":4.042,"fv1":4.090,"spr":-0.048},
{"d":"2025-05-10","tu1":4.147,"fv1":4.193,"spr":-0.046},
{"d":"2025-05-11","tu1":4.142,"fv1":4.193,"spr":-0.051},
{"d":"2025-05-12","tu1":4.254,"fv1":4.303,"spr":-0.049},
{"d":"2025-05-14","tu1":4.275,"fv1":4.321,"spr":-0.046},
{"d":"2025-05-16","tu1":4.309,"fv1":4.360,"spr":-0.051},
{"d":"2025-05-17","tu1":4.237,"fv1":4.280,"spr":-0.043},
{"d":"2025-05-18","tu1":4.249,"fv1":4.272,"spr":-0.023},
{"d":"2025-05-20","tu1":4.249,"fv1":4.280,"spr":-0.031},
{"d":"2025-05-21","tu1":4.234,"fv1":4.270,"spr":-0.036},
{"d":"2025-05-23","tu1":4.275,"fv1":4.350,"spr":-0.075},
{"d":"2025-05-24","tu1":4.257,"fv1":4.316,"spr":-0.059},
{"d":"2025-05-26","tu1":4.249,"fv1":4.290,"spr":-0.041},
{"d":"2025-05-27","tu1":4.234,"fv1":4.234,"spr":0.000},
{"d":"2025-05-29","tu1":4.265,"fv1":4.260,"spr":0.005},
{"d":"2025-05-30","tu1":4.227,"fv1":4.214,"spr":0.013},
{"d":"2025-06-01","tu1":4.195,"fv1":4.195,"spr":0.000},
{"d":"2025-06-02","tu1":4.222,"fv1":4.215,"spr":0.005},
{"d":"2025-06-04","tu1":4.240,"fv1":4.235,"spr":0.005},
{"d":"2025-06-05","tu1":4.158,"fv1":4.146,"spr":0.012},
{"d":"2025-06-07","tu1":4.200,"fv1":4.200,"spr":0.000},
{"d":"2025-06-08","tu1":4.303,"fv1":4.326,"spr":-0.0232}
],
"topLast": [
{"s":"FV1 Comdty","d":"2025-06-08","d2":"2025-06-26","v":4.326,"chg":"-8.35%","tag":"4.326"},
{"s":"TU1 Comdty","d":"2025-06-08","d2":"2025-06-26","v":4.303,"chg":"-15.96%","tag":"4.303"}
],
"topAnn": [
{"s":"TU1 Comdty","d":"2024-06-10","v":5.121,"label":"Hi: 5.121","pos":"start"},
{"s":"FV1 Comdty","d":"2025-01-13","v":4.779,"label":"Hi: 4.779","pos":"above"},
{"s":"FV1 Comdty","d":"2024-09-16","v":3.730,"label":"Low: 3.730","pos":"below"},
{"s":"TU1 Comdty","d":"2024-10-02","v":3.810,"label":"Low: 3.810","pos":"below"}
],
"botLast": [
{"d":"2025-06-08","d2":"2025-06-26","v":-0.0232,"tag":"-0.0232"}
],
"botAnn": [
{"s":"TU1 Comdty - FV1 Comdty","d":"2024-06-16","v":0.4442,"label":"Hi: 0.4442","pos":"start"},
{"s":"TU1 Comdty - FV1 Comdty","d":"2025-04-13","v":-0.1743,"label":"Low: -0.1743","pos":"below"}
]
},
"vconcat": [
{
"width": 1301, "height": 89,
"data": {"name": "hdrA"},
"encoding": {
"x": {"datum": 0, "type": "quantitative", "scale": {"domain": [0, 1]}, "axis": null},
"y": {"field": "part", "type": "nominal", "scale": {"type": "band", "domain": ["Ticker", "Name", "Trade"], "paddingInner": 0, "paddingOuter": 0.316}, "axis": null},
"color": {"field": "role", "type": "nominal", "legend": null, "scale": {"domain": ["bgred","bggray","btn","val","valb","lbl","cyan","box","boxtxt","gray","beige","blue","dred","wtxt","dtxt"], "range": ["#8b1121","#1f1f1f","#333333","#ffffff","#ffffff","#f2a33a","#52c5e5","#f7a22c","#1a1208","#4b4b4b","#aba08e","#1b5fc2","#6a0c18","#ffffff","#c8c8c8"]}}
},
"layer": [
{"transform": [{"filter": "datum.role == 'bgred'"}], "mark": {"type": "rect"}, "encoding": {"x2": {"datum": 1}}},
{"transform": [{"filter": "datum.part == 'Trade' && datum.role != 'bgred'"}], "mark": {"type": "text", "align": "left", "baseline": "middle", "font": "DejaVu Sans Mono", "fontSize": 17}, "encoding": {"text": {"field": "text"}}},
{"transform": [{"filter": "datum.part != 'Trade' && datum.role != 'valb'"}], "mark": {"type": "text", "align": "left", "baseline": "middle", "font": "DejaVu Sans Mono", "fontSize": 17.8}, "encoding": {"text": {"field": "text"}}},
{"transform": [{"filter": "datum.role == 'valb'"}], "mark": {"type": "text", "align": "left", "baseline": "middle", "font": "DejaVu Sans Mono", "fontSize": 17.8, "fontWeight": "bold"}, "encoding": {"text": {"field": "text"}}}
]
},
{
"width": 1301, "height": 59,
"data": {"name": "hdrB"},
"encoding": {
"x": {"datum": 0, "type": "quantitative", "scale": {"domain": [0, 1]}, "axis": null},
"y": {"field": "part", "type": "nominal", "scale": {"type": "band", "domain": ["Data", "Scale", "Period"], "paddingInner": 0, "paddingOuter": 0}, "axis": null},
"color": {"field": "role", "type": "nominal", "legend": null, "scale": {"domain": ["bgred","bggray","btn","val","valb","lbl","cyan","box","boxtxt","gray","beige","blue","dred","wtxt","dtxt"], "range": ["#8b1121","#1f1f1f","#333333","#ffffff","#ffffff","#f2a33a","#52c5e5","#f7a22c","#1a1208","#4b4b4b","#aba08e","#1b5fc2","#6a0c18","#ffffff","#c8c8c8"]}}
},
"layer": [
{"transform": [{"filter": "datum.role == 'bggray'"}], "mark": {"type": "rect"}, "encoding": {"x2": {"datum": 1}}},
{"transform": [{"filter": "datum.role != 'bggray'"}], "mark": {"type": "text", "align": "left", "baseline": "middle", "font": "DejaVu Sans Mono", "fontSize": 14}, "encoding": {"text": {"field": "text"}}}
]
},
{
"width": 1235, "height": 539,
"data": {"name": "yields"},
"resolve": {"axis": {"x": "independent", "y": "independent"}},
"layer": [
{
"transform": [{"fold": ["tu1", "fv1"], "as": ["k", "v"]}, {"aggregate": [{"op": "min", "field": "v", "as": "lo"}, {"op": "max", "field": "tu1", "as": "tu1"}, {"op": "max", "field": "fv1", "as": "fv1"}], "groupby": ["d"]}],
"mark": {"type": "area", "color": "#2e5b12", "opacity": 1},
"encoding": {
"x": {"field": "d", "type": "temporal", "scale": {"type": "utc", "domain": [{"year": 2024, "month": 6, "date": 10, "utc": true}, {"year": 2025, "month": 6, "date": 26, "utc": true}]},
 "axis": {"orient": "bottom", "values": [{"year":2024,"month":7,"date":1,"utc":true},{"year":2024,"month":8,"date":1,"utc":true},{"year":2024,"month":9,"date":1,"utc":true},{"year":2024,"month":10,"date":1,"utc":true},{"year":2024,"month":11,"date":1,"utc":true},{"year":2024,"month":12,"date":1,"utc":true},{"year":2025,"month":1,"date":1,"utc":true},{"year":2025,"month":2,"date":1,"utc":true},{"year":2025,"month":3,"date":1,"utc":true},{"year":2025,"month":4,"date":1,"utc":true},{"year":2025,"month":5,"date":1,"utc":true},{"year":2025,"month":6,"date":1,"utc":true}],
 "grid": true, "gridColor": "#8a8a8a", "gridDash": [2, 3], "gridWidth": 1, "labels": false, "ticks": false, "domain": true, "domainColor": "#4a4a4a", "domainWidth": 3, "title": null}},
"y": {"field": "tu1", "type": "quantitative", "scale": {"domain": [3.5907, 5.2492], "zero": false, "nice": false},
 "axis": {"orient": "right", "values": [3.8, 4.0, 4.2, 4.4, 4.6, 4.8, 5.0, 5.2], "format": ".3f", "grid": true, "gridColor": "#8a8a8a", "gridDash": [2, 3], "gridWidth": 1, "domainColor": "#e8891c", "domainWidth": 1.5, "tickColor": "#e8891c", "tickSize": 7, "tickWidth": 2.5, "labelColor": "#ffffff", "labelFont": "Liberation Sans", "labelFontSize": 13, "labelPadding": 4, "title": null}},
"y2": {"field": "lo"}
}
},
{
"transform": [{"fold": ["tu1", "fv1"], "as": ["k", "v"]}, {"aggregate": [{"op": "min", "field": "v", "as": "lo"}, {"op": "max", "field": "tu1", "as": "tu1"}, {"op": "max", "field": "fv1", "as": "fv1"}], "groupby": ["d"]}],
"mark": {"type": "area", "color": "#6b1313", "opacity": 1},
"encoding": {
"x": {"field": "d", "type": "temporal", "scale": {"type": "utc"}, "axis": null},
"y": {"field": "fv1", "type": "quantitative", "axis": {"orient": "right", "values": [3.6, 3.7, 3.9, 4.1, 4.3, 4.5, 4.7, 4.9, 5.1], "labels": false, "grid": false, "domain": false, "tickColor": "#e8891c", "tickSize": 4, "tickWidth": 1.5, "title": null}},
"y2": {"field": "lo"}
}
},
{
"mark": {"type": "line", "color": "#ffffff", "strokeWidth": 1.3},
"encoding": {"x": {"field": "d", "type": "temporal", "scale": {"type": "utc"}, "axis": null}, "y": {"field": "tu1", "type": "quantitative", "axis": null}}
},
{
"mark": {"type": "line", "color": "#f0952a", "strokeWidth": 1.3},
"encoding": {"x": {"field": "d", "type": "temporal", "scale": {"type": "utc"}, "axis": null}, "y": {"field": "fv1", "type": "quantitative", "axis": null}}
},
{
"data": {"name": "topLast"},
"transform": [{"filter": "datum.s == 'FV1 Comdty'"}],
"mark": {"type": "rule", "strokeWidth": 1.5, "color": "#f0952a"},
"encoding": {"x": {"field": "d", "type": "temporal", "scale": {"type": "utc"}, "axis": null}, "x2": {"field": "d2"}, "y": {"field": "v", "type": "quantitative", "axis": null}}
},
{
"data": {"name": "topLast"},
"transform": [{"filter": "datum.s == 'TU1 Comdty'"}],
"mark": {"type": "rule", "strokeWidth": 1.5, "color": "#ffffff"},
"encoding": {"x": {"field": "d", "type": "temporal", "scale": {"type": "utc"}, "axis": null}, "x2": {"field": "d2"}, "y": {"field": "v", "type": "quantitative", "axis": null}}
},
{
"data": {"name": "topLast"},
"transform": [{"filter": "datum.s == 'FV1 Comdty'"}],
"mark": {"type": "text", "align": "right", "baseline": "bottom", "dx": -10, "dy": -2, "font": "Liberation Sans", "fontSize": 12.5, "color": "#f0952a"},
"encoding": {"x": {"field": "d2", "type": "temporal", "scale": {"type": "utc"}, "axis": null}, "y": {"field": "v", "type": "quantitative", "axis": null}, "text": {"field": "chg"}}
},
{
"data": {"name": "topLast"},
"transform": [{"filter": "datum.s == 'TU1 Comdty'"}],
"mark": {"type": "text", "align": "right", "baseline": "top", "dx": -5, "dy": 3, "font": "Liberation Sans", "fontSize": 12.5, "color": "#ffffff"},
"encoding": {"x": {"field": "d2", "type": "temporal", "scale": {"type": "utc"}, "axis": null}, "y": {"field": "v", "type": "quantitative", "axis": null}, "text": {"field": "chg"}}
},
{
"data": {"name": "topLast"},
"transform": [{"filter": "datum.s == 'FV1 Comdty'"}],
"mark": {"type": "point", "shape": "M0.05,0L0.2,-0.167L1.05,-0.167L1.05,0.167L0.2,0.167Z", "size": 14400, "filled": true, "opacity": 1, "color": "#f0952a"},
"encoding": {"x": {"field": "d2", "type": "temporal", "scale": {"type": "utc"}, "axis": null}, "y": {"field": "v", "type": "quantitative", "axis": null}}
},
{
"data": {"name": "topLast"},
"transform": [{"filter": "datum.s == 'TU1 Comdty'"}],
"mark": {"type": "point", "shape": "M0.05,0L0.2,-0.167L1.05,-0.167L1.05,0.167L0.2,0.167Z", "size": 14400, "filled": true, "opacity": 1, "color": "#ffffff"},
"encoding": {"x": {"field": "d2", "type": "temporal", "scale": {"type": "utc"}, "axis": null}, "y": {"field": "v", "type": "quantitative", "axis": null}}
},
{
"data": {"name": "topLast"},
"transform": [{"filter": "datum.s == 'TU1 Comdty'"}],
"mark": {"type": "text", "align": "left", "baseline": "middle", "dx": 14, "font": "Liberation Sans", "fontSize": 12.5, "color": "#000000"},
"encoding": {"x": {"field": "d2", "type": "temporal", "scale": {"type": "utc"}, "axis": null}, "y": {"field": "v", "type": "quantitative", "axis": null}, "text": {"field": "tag"}}
},
{
"data": {"name": "topAnn"},
"mark": {"type": "point", "filled": true, "size": 45, "opacity": 1},
"encoding": {"x": {"field": "d", "type": "temporal", "scale": {"type": "utc"}, "axis": null}, "y": {"field": "v", "type": "quantitative", "axis": null},
 "color": {"field": "s", "type": "nominal", "scale": {"domain": ["TU1 Comdty", "FV1 Comdty"], "range": ["#ffffff", "#f0952a"]},
  "legend": {"orient": "none", "legendX": 3, "legendY": 8, "title": "Mid Yield To Maturity", "titleColor": "#ffffff", "titleFont": "Noto Sans", "titleFontSize": 12, "titleFontWeight": "normal", "titlePadding": 3, "labelColor": "#ffffff", "labelFont": "Noto Sans", "labelFontSize": 12.5, "labelLimit": 300, "symbolType": "square", "symbolSize": 130, "symbolStrokeWidth": 0, "fillColor": "#1e1e1e", "padding": 6, "rowPadding": 2, "labelExpr": "datum.label == 'TU1 Comdty' ? 'TU1 Comdty\u00a0\u00a04.303' : 'FV1 Comdty\u00a0\u00a04.326'"}}}
},
{
"data": {"name": "topAnn"},
"transform": [{"filter": "datum.pos == 'start'"}],
"mark": {"type": "text", "align": "left", "baseline": "bottom", "dx": 1, "dy": -4, "font": "Liberation Sans", "fontSize": 12.5, "color": "#ffffff"},
"encoding": {"x": {"field": "d", "type": "temporal", "scale": {"type": "utc"}, "axis": null}, "y": {"field": "v", "type": "quantitative", "axis": null}, "text": {"field": "label"}}
},
{
"data": {"name": "topAnn"},
"transform": [{"filter": "datum.pos == 'above'"}],
"mark": {"type": "text", "align": "center", "baseline": "bottom", "dy": -5, "font": "Liberation Sans", "fontSize": 12.5, "color": "#f0952a"},
"encoding": {"x": {"field": "d", "type": "temporal", "scale": {"type": "utc"}, "axis": null}, "y": {"field": "v", "type": "quantitative", "axis": null}, "text": {"field": "label"}}
},
{
"data": {"name": "topAnn"},
"transform": [{"filter": "datum.pos == 'below' && datum.s == 'FV1 Comdty'"}],
"mark": {"type": "text", "align": "center", "baseline": "top", "dy": 5, "font": "Liberation Sans", "fontSize": 12.5, "color": "#f0952a"},
"encoding": {"x": {"field": "d", "type": "temporal", "scale": {"type": "utc"}, "axis": null}, "y": {"field": "v", "type": "quantitative", "axis": null}, "text": {"field": "label"}}
},
{
"data": {"name": "topAnn"},
"transform": [{"filter": "datum.pos == 'below' && datum.s == 'TU1 Comdty'"}],
"mark": {"type": "text", "align": "center", "baseline": "top", "dy": 5, "font": "Liberation Sans", "fontSize": 12.5, "color": "#ffffff"},
"encoding": {"x": {"field": "d", "type": "temporal", "scale": {"type": "utc"}, "axis": null}, "y": {"field": "v", "type": "quantitative", "axis": null}, "text": {"field": "label"}}
}
]
},
{
"width": 1235, "height": 443,
"data": {"name": "yields"},
"resolve": {"axis": {"x": "independent", "y": "independent"}},
"layer": [
{
"mark": {"type": "area", "opacity": 1, "color": {"gradient": "linear", "x1": 0, "y1": 0, "x2": 0, "y2": 1, "stops": [{"offset": 0, "color": "#06751d"}, {"offset": 0.7182, "color": "#06751d"}, {"offset": 0.7182, "color": "#7b1020"}, {"offset": 1, "color": "#7b1020"}]}},
"encoding": {
"x": {"field": "d", "type": "temporal", "scale": {"type": "utc", "domain": [{"year": 2024, "month": 6, "date": 10, "utc": true}, {"year": 2025, "month": 6, "date": 26, "utc": true}]},
 "axis": {"orient": "bottom", "values": [{"year":2024,"month":7,"date":1,"utc":true},{"year":2024,"month":8,"date":1,"utc":true},{"year":2024,"month":9,"date":1,"utc":true},{"year":2024,"month":10,"date":1,"utc":true},{"year":2024,"month":11,"date":1,"utc":true},{"year":2024,"month":12,"date":1,"utc":true},{"year":2025,"month":1,"date":1,"utc":true},{"year":2025,"month":2,"date":1,"utc":true},{"year":2025,"month":3,"date":1,"utc":true},{"year":2025,"month":4,"date":1,"utc":true},{"year":2025,"month":5,"date":1,"utc":true},{"year":2025,"month":6,"date":1,"utc":true}],
 "grid": true, "gridColor": "#8a8a8a", "gridDash": [2, 3], "gridWidth": 1, "labels": false, "ticks": false, "domain": true, "domainColor": "#e6e6e6", "domainWidth": 1.5, "title": null}},
"y": {"field": "spr", "type": "quantitative", "scale": {"domain": [-0.2336, 0.5109], "zero": false, "nice": false},
 "axis": {"orient": "right", "values": [-0.2, -0.1, 0, 0.1, 0.2, 0.3, 0.4, 0.5], "labelExpr": "datum.value > 0.45 ? '' : replace(format(datum.value, '.2f'), '\u2212', '-')", "grid": true, "gridColor": "#8a8a8a", "gridDash": [2, 3], "gridWidth": 1, "domainColor": "#e3b81e", "domainWidth": 1.5, "tickColor": "#e3b81e", "tickSize": 7, "tickWidth": 2.5, "labelColor": "#ffffff", "labelFont": "Liberation Sans", "labelFontSize": 13, "labelPadding": 7, "title": null}},
"y2": {"datum": 0}
}
},
{
"mark": {"type": "line", "color": "#e2b21f", "strokeWidth": 1.2},
"encoding": {
"x": {"field": "d", "type": "temporal", "scale": {"type": "utc"},
 "axis": {"orient": "bottom", "values": [{"year":2024,"month":6,"date":20,"utc":true},{"year":2024,"month":7,"date":16,"utc":true},{"year":2024,"month":8,"date":16,"utc":true},{"year":2024,"month":9,"date":16,"utc":true},{"year":2024,"month":10,"date":16,"utc":true},{"year":2024,"month":11,"date":16,"utc":true},{"year":2024,"month":12,"date":16,"utc":true},{"year":2025,"month":1,"date":16,"utc":true},{"year":2025,"month":2,"date":15,"utc":true},{"year":2025,"month":3,"date":16,"utc":true},{"year":2025,"month":4,"date":16,"utc":true},{"year":2025,"month":5,"date":16,"utc":true},{"year":2025,"month":6,"date":16,"utc":true}],
 "labelExpr": "utcFormat(datum.value, '%b')", "grid": false, "ticks": false, "domain": false, "labelColor": "#e0e0e0", "labelFont": "Liberation Sans", "labelFontSize": 12.5, "labelPadding": 4, "labelFlush": false, "labelOverlap": false, "title": null}},
"y": {"field": "spr", "type": "quantitative", "axis": {"orient": "right", "values": [-0.15, -0.05, 0.05, 0.15, 0.25, 0.35, 0.45], "labels": false, "grid": false, "domain": false, "tickColor": "#e3b81e", "tickSize": 4, "tickWidth": 1.5, "title": null}}
}
},
{
"data": {"name": "botLast"},
"mark": {"type": "rule", "color": "#e2a21f", "strokeWidth": 1.3},
"encoding": {
"x": {"field": "d", "type": "temporal", "scale": {"type": "utc"},
 "axis": {"orient": "bottom", "offset": 16, "values": [{"year": 2024, "month": 9, "date": 20, "utc": true}, {"year": 2025, "month": 3, "date": 31, "utc": true}], "labelExpr": "utcFormat(datum.value, '%Y')", "grid": false, "ticks": false, "domain": false, "labelColor": "#e0e0e0", "labelFont": "Liberation Sans", "labelFontSize": 12.5, "labelPadding": 3, "labelFlush": false, "title": null}},
"x2": {"field": "d2"},
"y": {"field": "v", "type": "quantitative", "axis": {"orient": "right", "offset": 52, "values": [-0.2, -0.1, 0, 0.1, 0.2, 0.3, 0.4, 0.5], "labels": false, "grid": false, "domain": false, "tickColor": "#e3b81e", "tickSize": 5, "tickWidth": 3, "title": null}}
}
},
{
"data": {"name": "botLast"},
"mark": {"type": "point", "shape": "M0.05,0L0.15,-0.167L0.95,-0.167L1.05,0L0.95,0.167L0.15,0.167Z", "size": 14400, "filled": true, "opacity": 1, "color": "#e6c21e"},
"encoding": {
"x": {"field": "d2", "type": "temporal", "scale": {"type": "utc"},
 "axis": {"orient": "bottom", "offset": 16, "values": [{"year": 2025, "month": 1, "date": 1, "utc": true}], "labels": false, "grid": false, "domain": false, "ticks": true, "tickSize": 18, "tickColor": "#6a6a6a", "tickWidth": 1, "title": null}},
"y": {"field": "v", "type": "quantitative", "axis": null}
}
},
{
"data": {"name": "botLast"},
"mark": {"type": "text", "align": "left", "baseline": "middle", "dx": 10, "font": "Liberation Sans", "fontSize": 12.5, "color": "#000000"},
"encoding": {"x": {"field": "d2", "type": "temporal", "scale": {"type": "utc"}, "axis": null}, "y": {"field": "v", "type": "quantitative", "axis": null}, "text": {"field": "tag"}}
},
{
"data": {"name": "botAnn"},
"mark": {"type": "point", "filled": true, "size": 45, "opacity": 1},
"encoding": {"x": {"field": "d", "type": "temporal", "scale": {"type": "utc"}, "axis": null}, "y": {"field": "v", "type": "quantitative", "axis": null},
 "color": {"field": "s", "type": "nominal", "scale": {"domain": ["TU1 Comdty - FV1 Comdty"], "range": ["#e6c21e"]},
  "legend": {"orient": "none", "legendX": 8, "legendY": 9, "title": null, "labelColor": "#ffffff", "labelFont": "Noto Sans", "labelFontSize": 12.5, "labelLimit": 400, "symbolType": "square", "symbolSize": 130, "symbolStrokeWidth": 0, "fillColor": "#1e1e1e", "padding": 5, "labelExpr": "datum.label + '\u00a0\u00a0-0.0232'"}}}
},
{
"data": {"name": "botAnn"},
"transform": [{"filter": "datum.pos == 'start'"}],
"mark": {"type": "text", "align": "left", "baseline": "bottom", "dx": -3, "dy": -4, "font": "Liberation Sans", "fontSize": 12.5, "color": "#c9a43a"},
"encoding": {"x": {"field": "d", "type": "temporal", "scale": {"type": "utc"}, "axis": null}, "y": {"field": "v", "type": "quantitative", "axis": null}, "text": {"field": "label"}}
},
{
"data": {"name": "botAnn"},
"transform": [{"filter": "datum.pos == 'below'"}],
"mark": {"type": "text", "align": "center", "baseline": "top", "dy": 5, "font": "Liberation Sans", "fontSize": 12.5, "color": "#c9a43a"},
"encoding": {"x": {"field": "d", "type": "temporal", "scale": {"type": "utc"}, "axis": null}, "y": {"field": "v", "type": "quantitative", "axis": null}, "text": {"field": "label"}}
}
]
}
]
}
